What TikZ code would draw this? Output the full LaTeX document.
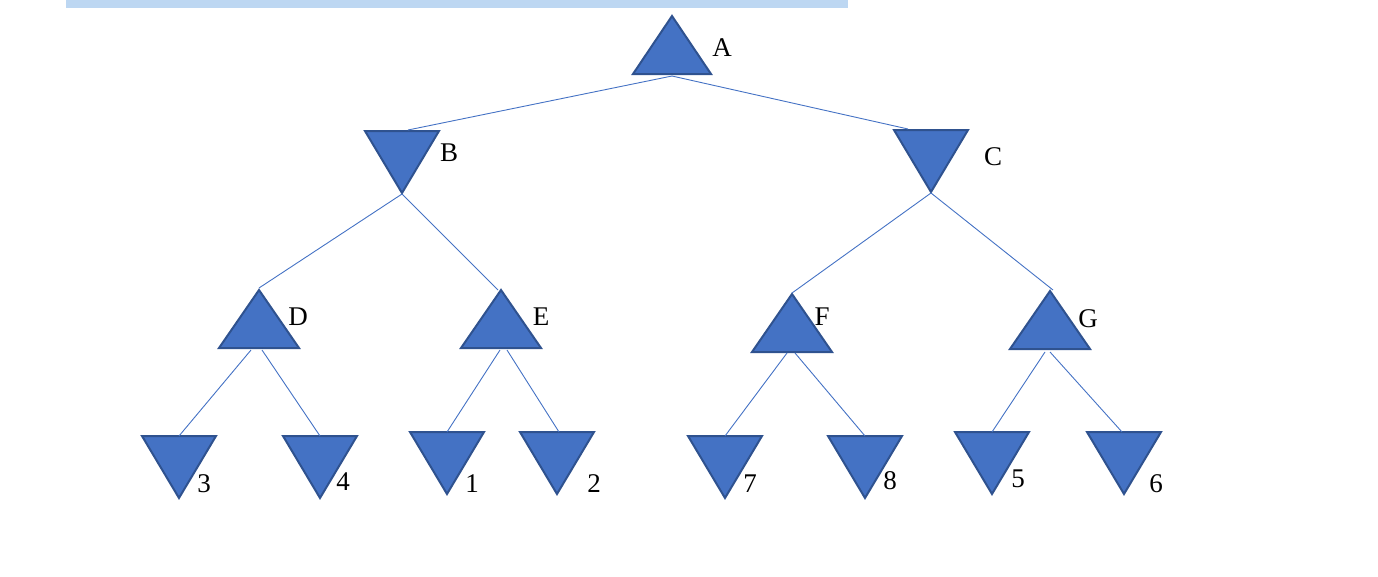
\documentclass[tikz,border=0pt]{standalone}
\usepackage{fontspec}
\setmainfont{Liberation Serif}
\begin{document}
\begin{tikzpicture}[x=1pt,y=-1pt,
  tri/.style={fill=triblue,draw=triedge,line width=2pt,line join=miter},
  edge/.style={draw=triblue,line width=0.9pt},
  lab/.style={font=\fontsize{27}{30}\selectfont,inner sep=0pt}]
\definecolor{triblue}{HTML}{4472C4}
\definecolor{triedge}{HTML}{2F528F}
\definecolor{barblue}{HTML}{BDD7F2}
\useasboundingbox (0,0) rectangle (1378,576);
\fill[barblue] (66,0) rectangle (848,8);
% up triangles: apex, base
\newcommand{\uptri}[3]{\path[tri] (#1,#2) -- (#1-#3,#2+58) -- (#1+#3,#2+58) -- cycle;}
\newcommand{\dntri}[3]{\path[tri] (#1-#3,#2) -- (#1+#3,#2) -- (#1,#2+62) -- cycle;}
\uptri{672}{16}{39}
\dntri{402}{131}{37}
\dntri{931}{130}{37}
\uptri{259}{290}{40}
\uptri{501}{290}{40}
\uptri{792}{294}{40}
\uptri{1050}{291}{40}
\dntri{179}{436}{37}
\dntri{320}{436}{37}
\dntri{447}{432}{37}
\dntri{557}{432}{37}
\dntri{725}{436}{37}
\dntri{865}{436}{37}
\dntri{992}{432}{37}
\dntri{1124}{432}{37}
% connector endpoints
\coordinate (Ab) at (672,76);
\coordinate (Bt) at (408,130); \coordinate (Ct) at (908,129);
\coordinate (Bb) at (402,194); \coordinate (Cb) at (931,193);
\coordinate (Dt) at (259,288); \coordinate (Et) at (498,290);
\coordinate (Ft) at (792,293); \coordinate (Gt) at (1053,290);
\coordinate (Db1) at (251,350); \coordinate (Db2) at (262,350);
\coordinate (Eb1) at (500,350); \coordinate (Eb2) at (507,350);
\coordinate (Fb1) at (787,353); \coordinate (Fb2) at (795,353);
\coordinate (Gb1) at (1045,352); \coordinate (Gb2) at (1050,352);
\coordinate (L3) at (179,436); \coordinate (L4) at (320,436);
\coordinate (L1) at (447,432); \coordinate (L2) at (559,432);
\coordinate (L7) at (725,436); \coordinate (L8) at (865,436);
\coordinate (L5) at (992,432); \coordinate (L6) at (1122,432);
\draw[edge] (Ab) -- (Bt); \draw[edge] (Ab) -- (Ct);
\draw[edge] (Bb) -- (Dt); \draw[edge] (Bb) -- (Et);
\draw[edge] (Cb) -- (Ft); \draw[edge] (Cb) -- (Gt);
\draw[edge] (Db1) -- (L3); \draw[edge] (Db2) -- (L4);
\draw[edge] (Eb1) -- (L1); \draw[edge] (Eb2) -- (L2);
\draw[edge] (Fb1) -- (L7); \draw[edge] (Fb2) -- (L8);
\draw[edge] (Gb1) -- (L5); \draw[edge] (Gb2) -- (L6);
% labels
\node[lab] (tA) at (722,48) {A};
\node[lab] (tB) at (449,153) {B};
\node[lab] (tC) at (993,157) {C};
\node[lab] (tD) at (298,317) {D};
\node[lab] (tE) at (541,317) {E};
\node[lab] (tF) at (822,317) {F};
\node[lab] (tG) at (1088,319) {G};
\node[lab] (t3) at (204,484) {3};
\node[lab] (t4) at (343,482) {4};
\node[lab] (t1) at (472,484) {1};
\node[lab] (t2) at (594,484) {2};
\node[lab] (t7) at (750,484) {7};
\node[lab] (t8) at (890,481) {8};
\node[lab] (t5) at (1018,479) {5};
\node[lab] (t6) at (1156,484) {6};
\end{tikzpicture}
\end{document}
